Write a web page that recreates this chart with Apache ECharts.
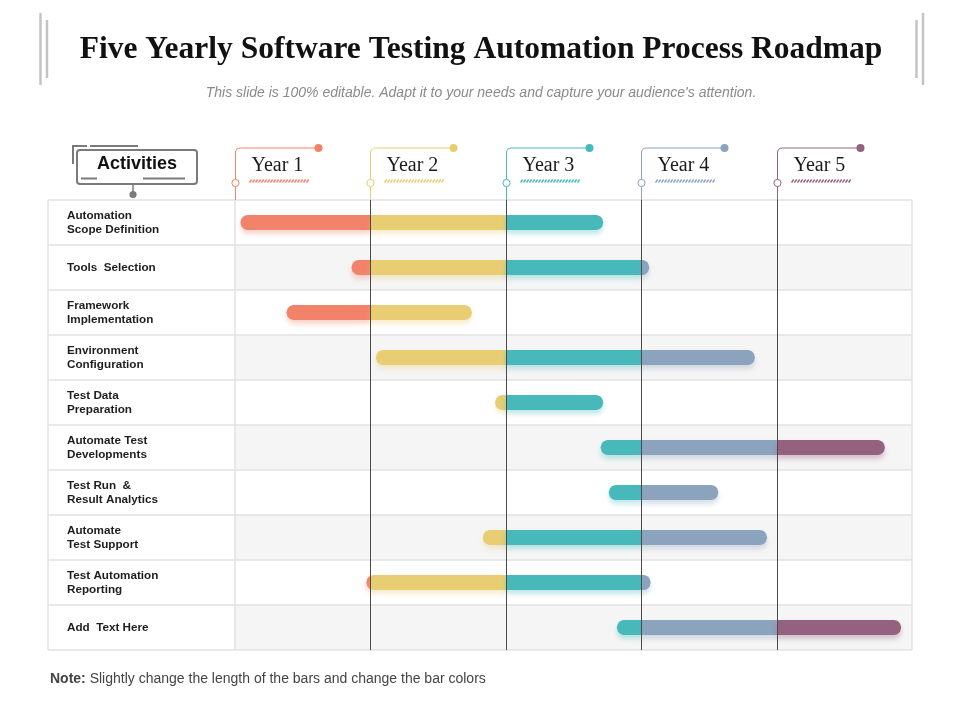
<!DOCTYPE html>
<html><head><meta charset="utf-8">
<script src="https://cdn.jsdelivr.net/npm/echarts/dist/echarts.min.js"></script>
<style>html,body{margin:0;padding:0;background:#fff}#c{width:960px;height:720px}</style>
</head><body><div id="c"></div>
<script>
// ---------- data ----------
const titleText = 'Five Yearly Software Testing Automation Process Roadmap';
const subtitleText = 'This slide is 100% editable. Adapt it to your needs and capture your audience\'s attention.';
const noteText = 'Slightly change the length of the bars and change the bar colors';
const activities = [
  'Automation\nScope Definition',
  'Tools  Selection',
  'Framework\nImplementation',
  'Environment\nConfiguration',
  'Test Data\nPreparation',
  'Automate Test\nDevelopments',
  'Test Run  &\nResult Analytics',
  'Automate\nTest Support',
  'Test Automation\nReporting',
  'Add  Text Here'
];
const years = ['Year 1', 'Year 2', 'Year 3', 'Year 4', 'Year 5'];
// bar start / end measured in years (0 = start of Year 1, 5 = end of Year 5)
const barStart = [0.04, 0.86, 0.38, 1.04, 1.92, 2.70, 2.76, 1.83, 0.97, 2.82];
const barEnd   = [2.72, 3.06, 1.75, 3.84, 2.72, 4.80, 3.57, 3.93, 3.07, 4.92];
const yearColors = ['#F2836A', '#E8CD72', '#47B9BB', '#8CA3BE', '#94617F'];

// ---------- layout constants ----------
const LABEL_COL = 187;
const BAR_R = 7.5;

function hexA(hex, a) {
  const n = parseInt(hex.slice(1), 16);
  return 'rgba(' + (n >> 16 & 255) + ',' + (n >> 8 & 255) + ',' + (n & 255) + ',' + a + ')';
}

function stadiumSlice(x0, x1, s, e, cy, r) {
  const hh = x => {
    if (x < s + r) { const d = s + r - x; return Math.sqrt(Math.max(0, r * r - d * d)); }
    if (x > e - r) { const d = x - (e - r); return Math.sqrt(Math.max(0, r * r - d * d)); }
    return r;
  };
  const n = Math.max(2, Math.ceil(x1 - x0));
  const xs = [];
  for (let i = 0; i <= n; i++) xs.push(x0 + (x1 - x0) * i / n);
  const top = xs.map(x => [x, cy - hh(x)]);
  const bot = xs.slice().reverse().map(x => [x, cy + hh(x)]);
  return top.concat(bot);
}

const barData = activities.map((a, i) => [i, barStart[i], barEnd[i]]);
const tableData = activities.map((a, i) => [0, i]);
const yearData = years.map((y, i) => [i, 0]);

const chart = echarts.init(document.getElementById('c'));

const deco = '#7a7a7a';
const option = {
  animation: false,
  backgroundColor: '#ffffff',
  grid: { left: 235, right: 48, top: 200, bottom: 70 },
  xAxis: {
    type: 'value', min: 0, max: years.length, interval: 1,
    axisLine: { show: false }, axisTick: { show: false }, axisLabel: { show: false },
    splitLine: { show: false }
  },
  yAxis: {
    type: 'category', data: activities, inverse: true,
    axisLine: { show: false }, axisTick: { show: false },
    axisLabel: {
      margin: LABEL_COL - 19, align: 'left', color: '#1e1e1e', padding: [4, 0, 0, 0],
      fontFamily: 'Liberation Sans, Arial, sans-serif', fontWeight: 'bold', fontSize: 11.7, lineHeight: 14
    },
    splitLine: { show: false },
    splitArea: { show: true, areaStyle: { color: ['#ffffff', '#f5f5f5'] } }
  },
  graphic: [
    // side decorations
    { type: 'line', shape: { x1: 40.5, y1: 13, x2: 40.5, y2: 85 }, style: { stroke: '#c4c4c4', lineWidth: 2.5 } },
    { type: 'line', shape: { x1: 47, y1: 20, x2: 47, y2: 78 }, style: { stroke: '#c4c4c4', lineWidth: 2.5 } },
    { type: 'line', shape: { x1: 916.5, y1: 20, x2: 916.5, y2: 78 }, style: { stroke: '#c4c4c4', lineWidth: 2.5 } },
    { type: 'line', shape: { x1: 923, y1: 13, x2: 923, y2: 85 }, style: { stroke: '#c4c4c4', lineWidth: 2.5 } },
    // title & subtitle
    { type: 'text', x: 481, y: 50, style: { text: titleText, fill: '#111', font: 'bold 31.5px "Liberation Serif", "Times New Roman", serif', textAlign: 'center', textVerticalAlign: 'middle' } },
    { type: 'text', x: 481, y: 93, style: { text: subtitleText, fill: '#8a8a8a', font: 'italic 14px "Liberation Sans", Arial, sans-serif', textAlign: 'center', textVerticalAlign: 'middle' } },
    // note
    { type: 'text', x: 50, y: 679, style: {
      text: '{b|Note:} ' + noteText, fill: '#444', font: '14px "Liberation Sans", Arial, sans-serif', textVerticalAlign: 'middle',
      rich: { b: { fontWeight: 'bold', fontSize: 14, fontFamily: 'Liberation Sans, Arial, sans-serif', fill: '#444' } }
    } },
    // Activities box
    { type: 'rect', shape: { x: 77, y: 150, width: 120, height: 34, r: 3 }, style: { fill: '#fff', stroke: deco, lineWidth: 2 } },
    { type: 'polyline', shape: { points: [[73, 164], [73, 146], [87, 146]] }, style: { stroke: deco, lineWidth: 2, fill: null } },
    { type: 'line', shape: { x1: 90, y1: 146, x2: 138, y2: 146 }, style: { stroke: deco, lineWidth: 2 } },
    { type: 'line', shape: { x1: 81, y1: 178.5, x2: 97, y2: 178.5 }, style: { stroke: deco, lineWidth: 2 } },
    { type: 'line', shape: { x1: 143, y1: 178.5, x2: 185, y2: 178.5 }, style: { stroke: deco, lineWidth: 2 } },
    { type: 'line', shape: { x1: 133, y1: 184, x2: 133, y2: 193 }, style: { stroke: deco, lineWidth: 1.5 } },
    { type: 'circle', shape: { cx: 133, cy: 194.5, r: 3.6 }, style: { fill: deco } },
    { type: 'text', x: 137, y: 164.5, style: { text: 'Activities', fill: '#111', font: 'bold 18px "Liberation Sans", Arial, sans-serif', textAlign: 'center', textVerticalAlign: 'middle' } }
  ],
  series: [
    {
      // table borders
      type: 'custom', name: 'table', clip: false, z: 1, silent: true,
      data: tableData, encode: { x: 0, y: 1 },
      renderItem(params, api) {
        const cs = params.coordSys;
        const c = api.coord([0, api.value(1)]);
        const h = api.size([0, 1])[1];
        const top = c[1] - h / 2, bot = c[1] + h / 2;
        const left = cs.x - LABEL_COL, right = cs.x + cs.width;
        const st = { stroke: '#e2e2e2', lineWidth: 1.5 };
        const ch = [
          { type: 'line', shape: { x1: left, y1: bot, x2: right, y2: bot }, style: st },
          { type: 'line', shape: { x1: left, y1: top, x2: left, y2: bot }, style: st },
          { type: 'line', shape: { x1: cs.x, y1: top, x2: cs.x, y2: bot }, style: st },
          { type: 'line', shape: { x1: right, y1: top, x2: right, y2: bot }, style: st }
        ];
        if (params.dataIndex === 0) ch.push({ type: 'line', shape: { x1: left, y1: top, x2: right, y2: top }, style: st });
        return { type: 'group', children: ch };
      }
    },
    {
      // bars
      type: 'custom', name: 'bars', clip: false, z: 3,
      data: barData, encode: { x: [1, 2], y: 0 },
      renderItem(params, api) {
        const row = api.value(0), s = api.value(1), e = api.value(2);
        const ps = api.coord([s, row]), pe = api.coord([e, row]);
        const cy = ps[1];
        const ch = [];
        for (let k = Math.floor(s); k < Math.ceil(e); k++) {
          const a = Math.max(s, k), b = Math.min(e, k + 1);
          const xa = api.coord([a, row])[0], xb = api.coord([b, row])[0];
          ch.push({
            type: 'polygon', shape: { points: stadiumSlice(xa, xb, ps[0], pe[0], cy, BAR_R) },
            style: { fill: yearColors[k], shadowColor: hexA(yearColors[k], 0.35), shadowBlur: 5, shadowOffsetY: 4 }
          });
        }
        return { type: 'group', children: ch };
      }
    },
    {
      // year headers and year divider lines
      type: 'custom', name: 'years', clip: false, z: 5, silent: true,
      data: yearData, encode: { x: 0, y: 1 },
      renderItem(params, api) {
        const cs = params.coordSys;
        const k = api.value(0);
        const x = Math.round(api.coord([k, 0])[0]) + 0.5;
        const col = yearColors[k];
        const cy = 183, ty = 148;
        const ch = [];
        ch.push({ type: 'path', shape: { pathData: 'M' + x + ' ' + (cy - 3.6) + ' L' + x + ' ' + (ty + 5) + ' Q' + x + ' ' + ty + ' ' + (x + 5) + ' ' + ty + ' L' + (x + 83) + ' ' + ty },
          style: { stroke: col, lineWidth: 1, fill: null } });
        ch.push({ type: 'circle', shape: { cx: x + 83, cy: ty, r: 4 }, style: { fill: col } });
        ch.push({ type: 'line', shape: { x1: x, y1: cy + 3.6, x2: x, y2: cs.y }, style: { stroke: col, lineWidth: 1 } });
        ch.push({ type: 'circle', shape: { cx: x, cy: cy, r: 3.6 }, style: { fill: '#fff', stroke: col, lineWidth: 1 } });
        ch.push({ type: 'text', x: x + 16, y: 166, style: { text: years[k], fill: '#1a1a1a', font: '20px "Liberation Serif", "Times New Roman", serif', textVerticalAlign: 'middle' } });
        for (let hx = x + 14; hx < x + 73; hx += 3) {
          ch.push({ type: 'line', shape: { x1: hx, y1: 182.5, x2: hx + 2.2, y2: 179.5 }, style: { stroke: col, lineWidth: 1.4 } });
        }
        if (k > 0) {
          ch.push({ type: 'line', shape: { x1: x, y1: cs.y, x2: x, y2: cs.y + cs.height }, style: { stroke: '#4a4a4a', lineWidth: 1 } });
        }
        return { type: 'group', children: ch };
      }
    }
  ]
};
chart.setOption(option);
</script>
</body></html>
